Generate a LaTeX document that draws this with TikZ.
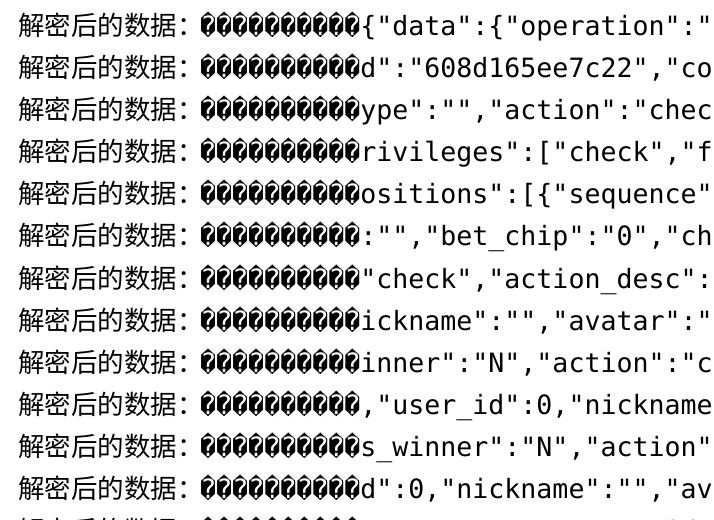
\documentclass[tikz,border=0pt]{standalone}
\usepackage{fontspec}
\newfontfamily\cjk{Noto Sans CJK SC}
\newfontfamily\mono{DejaVu Sans Mono}
\begin{document}
\begin{tikzpicture}[x=1bp,y=-1bp,
  lab/.style={anchor=base west,inner sep=0,font=\cjk\fontsize{26.5bp}{28bp}\selectfont},
  dat/.style={anchor=base west,inner sep=0,font=\mono\fontsize{26.6bp}{28bp}\selectfont}]
\useasboundingbox (0,0) rectangle (714,520);
\clip (0,0) rectangle (714,520);
\fill[white] (0,0) rectangle (714,520);
\def\rp{^^^^fffd^^^^fffd^^^^fffd^^^^fffd^^^^fffd^^^^fffd^^^^fffd^^^^fffd^^^^fffd^^^^fffd}
\foreach \i/\t in {0/{\{"data":\{"operation":"},
  1/{d":"608d165ee7c22","co},
  2/{ype":"","action":"chec},
  3/{rivileges":["check","f},
  4/{ositions":[\{"sequence"},
  5/{:"","bet\_chip":"0","ch},
  6/{"check","action\_desc":},
  7/{ickname":"","avatar":"},
  8/{inner":"N","action":"c},
  9/{,"user\_id":0,"nickname},
  10/{s\_winner":"N","action"},
  11/{d":0,"nickname":"","av},
  12/{"sequence":2,"user\_id"}}{
  \node[lab] (l\i) at (18,{36+42*\i}) {解密后的数据：};
  \node[dat] (d\i) at (200,{36+42*\i}) {\rp\t};
}
\end{tikzpicture}
\end{document}
